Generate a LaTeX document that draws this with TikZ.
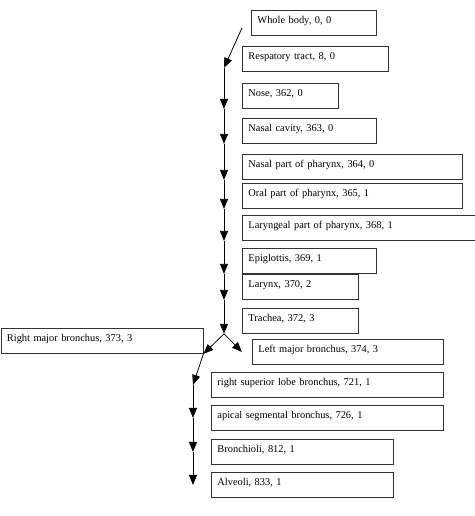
\documentclass[tikz,border=0pt]{standalone}
\usepackage{fontspec}
\setmainfont{Liberation Serif}
\usetikzlibrary{arrows.meta}

\begin{document}
\begin{tikzpicture}[
		every node/.style={draw=black!80, line width=0.9pt, anchor=north west, align=left,
			font=\fontsize{10.4pt}{12pt}\selectfont,
			inner xsep=6pt, inner ysep=0pt, text height=13pt, text depth=12pt},
		link/.style={line width=0.8pt, -{Triangle[width=8pt, length=10pt]}}
	]
  \useasboundingbox (0pt, 0pt) rectangle (474pt, -516pt);
  \node (whole_body) [text width=113pt] at (251pt, -10pt) {Whole body, 0, 0};
  \node (resp_tract) [text width=134pt] at (242pt, -46pt) {Respatory tract, 8, 0};
  \node (nose) [text width=84pt] at (242pt, -83pt) {Nose, 362, 0};
  \node (nasal_cavity) [text width=122pt] at (242pt, -118pt) {Nasal cavity, 363, 0};
  \node (nasal_pharynx) [text width=208pt] at (242pt, -154pt) {Nasal part of pharynx, 364, 0};
  \node (oral_pharynx) [text width=208pt] at (242pt, -183pt) {Oral part of pharynx, 365, 1};
  \node (laryn_pharynx) [text width=230pt] at (242pt, -215pt) {Laryngeal part of pharynx, 368, 1};
  \node (epiglottis) [text width=122pt] at (242pt, -248pt) {Epiglottis, 369, 1};
  \node (larynx) [text width=104pt] at (242pt, -274pt) {Larynx, 370, 2};
  \node (trachea) [text width=104pt] at (242pt, -308pt) {Trachea, 372, 3};
  \node (right_major) [text width=190pt] at (0.5pt, -328pt) {Right major bronchus, 373, 3};
  \node (left_major) [text width=179pt] at (252pt, -339pt) {Left major bronchus, 374, 3};
  \node (right_sup) [text width=220pt] at (211pt, -372pt) {right superior lobe bronchus, 721, 1};
  \node (apical_seg) [text width=220pt] at (211pt, -405pt) {apical segmental bronchus, 726, 1};
  \node (bronchioli) [text width=170pt] at (211pt, -439pt) {Bronchioli, 812, 1};
  \node (alveoli) [text width=170pt] at (211pt, -472pt) {Alveoli, 833, 1};
  \coordinate (spine) at (224pt, 0pt);
  \coordinate (lower_spine) at (193pt, 0pt);
  \draw [link] ([xshift=-9pt, yshift=8pt]whole_body.south west) -- ([yshift=4pt]spine |- resp_tract.south);
  \draw [link] ([yshift=4pt]spine |- resp_tract.south) -- (spine |- nose.south);
  \draw [link] (spine |- nose.south) -- (spine |- nasal_cavity.south);
  \draw [link] (spine |- nasal_cavity.south) -- (spine |- nasal_pharynx.south);
  \draw [link] (spine |- nasal_pharynx.south) -- (spine |- oral_pharynx.south);
  \draw [link] (spine |- oral_pharynx.south) -- (spine |- laryn_pharynx.south);
  \draw [link] (spine |- laryn_pharynx.south) -- (spine |- epiglottis.south);
  \draw [link] (spine |- epiglottis.south) -- (spine |- larynx.south);
  \draw [link] (spine |- larynx.south) -- (spine |- trachea.south);
  \draw [link] (spine |- trachea.south) -- (right_major.south east);
  \draw [link] (spine |- trachea.south) -- ([xshift=-10pt]left_major.west);
  \draw [link] (right_major.south east) -- (lower_spine |- right_sup.west);
  \draw [link] (lower_spine |- right_sup.west) -- (lower_spine |- apical_seg.west);
  \draw [link] (lower_spine |- apical_seg.west) -- (lower_spine |- bronchioli.west);
  \draw [link] (lower_spine |- bronchioli.west) -- (lower_spine |- alveoli.west);
\end{tikzpicture}
\end{document}
